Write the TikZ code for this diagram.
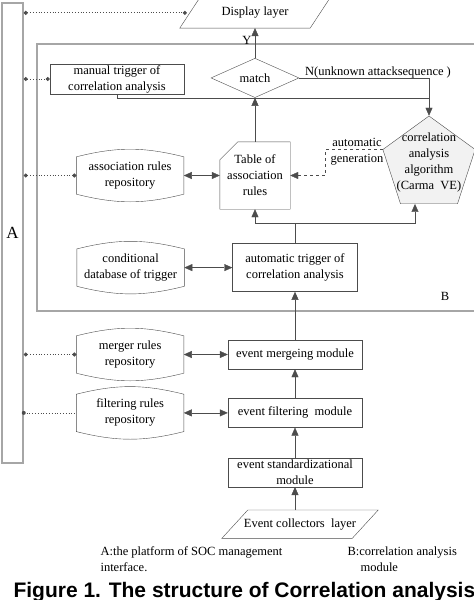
\documentclass[tikz,border=0pt]{standalone}
\usepackage{fontspec}
\setmainfont{Liberation Serif}
\newfontfamily\capfont{Liberation Sans}
\usetikzlibrary{arrows.meta}
\usetikzlibrary{shapes.geometric}
\usetikzlibrary{positioning}
\usetikzlibrary{calc}

\begin{document}
\begin{tikzpicture}[x=1pt,y=-1pt,font=\fontsize{12.5}{16}\selectfont]
  \tikzset{modbox/.style={draw=black!70,minimum width=#1,minimum height=29pt,inner sep=0pt,align=center},
           repo/.style={minimum width=107pt,minimum height=37pt,inner sep=0pt,align=center},
           link/.style={-{Triangle[length=8pt,width=7pt]},black!70},
           both/.style={{Triangle[length=8pt,width=7pt]}-{Triangle[length=8pt,width=7pt]},black!70},
           dotlink/.style={dotted,thick,{Circle[length=4pt]}-{Circle[length=4pt]},black!70},
           dashlink/.style={dashed,-{Triangle[length=8pt,width=7pt]},black!70},
           outline/.style={draw=black!35,line width=1.5pt}}
  \useasboundingbox (0,0) rectangle (474,600);

  % platform bar and module frame
  \node[outline,minimum width=21pt,minimum height=460pt,font=\fontsize{17}{17}\selectfont] (abar) at (12.5,233) {A};
  \node[outline,minimum width=446pt,minimum height=267pt] (bframe) at (260,177.5) {};
  \node (bmark) at (445,296) {B};

  % correlation analysis module
  \node[minimum width=70pt,minimum height=67pt,inner sep=0pt,align=center] (table) at (255,175.5) {Table of\\association\\rules};
  \node[diamond,draw=black!70,minimum width=88pt,minimum height=38pt,inner sep=0pt,above=44pt] (match) at (table.north) {match};
  \node[minimum width=150pt,minimum height=30pt,inner sep=0pt,above=30pt] (display) at (match.north) {Display layer};
  \node[modbox=134pt,minimum height=30pt] (manual) at (117,79) {manual trigger of\\correlation analysis};
  \node[regular polygon,regular polygon sides=5,draw=black!70,fill=black!5,minimum size=97pt,inner sep=0pt,
        label={[align=center,yshift=2pt]center:correlation\\analysis\\algorithm\\(Carma\ \ VE)}] (pent) at (429,164.5) {};
  \node[repo,left=36pt] (assoc) at (table.west) {association rules\\repository};

  % event chain
  \node[modbox=134pt] (merge) at (295,354.5) {event mergeing module};
  \node[modbox=134pt,below=29pt] (filt) at (merge.south) {event filtering\ \ module};
  \node[modbox=134pt,below=30pt] (std) at (filt.south) {event standardizational\\module};
  \node[minimum width=156pt,minimum height=28pt,inner sep=0pt,below=23pt,xshift=5pt] (collect) at (std.south) {Event collectors\ \ layer};
  \node[modbox=125pt,minimum height=48pt,above=48pt] (auto) at (merge.north) {automatic trigger of\\correlation analysis};
  \node[repo,left=48pt] (cond) at (auto.west) {conditional\\database of trigger};
  \node[repo,left=44pt] (merger) at (merge.west) {merger rules\\repository};
  \node[repo,left=44pt] (filter) at (filt.west) {filtering rules\\repository};

  % outlines
  \foreach \n/\s in {display/20,collect/26}
    \draw[black!70] (\n.south west) -- ([xshift=\s]\n.north west) -- (\n.north east) -- ([xshift=-\s]\n.south east) -- cycle;
  \draw[black!70] (table.south west) -- ([yshift=-18pt]table.north west) -- ([xshift=18pt]table.north west)
    -- (table.north east) -- (table.south east) -- cycle;
  \foreach \n in {assoc,cond,merger,filter}
    \draw[black!70] (\n.north west) to[bend left=14] (\n.north east) -- (\n.south east)
      to[bend left=14] (\n.south west) -- cycle;

  % labels
  \node (ymark) at (247,40) {Y};
  \node (nmark) at (378,72) {N(unknown attacksequence )};
  \node[align=center] (autogen) at (357,152) {automatic\\generation};

  \draw[link] (match.north) -- (display.south);
  \draw[link] (table.north) -- (match.south);
  \draw[link] (match.east) -| (pent.corner 1);
  \draw[black!70] (manual.south) |- (match.south -| pent.corner 1);
  \draw[black!70] (auto.north) -- ++(0,-20) coordinate (fork);
  \draw[link] (fork) -| (table.south);
  \draw[link] (fork) -| ([xshift=-14pt]pent.side 3);
  \draw[dashlink] (pent.corner 2) -- ++(-57,0) |- (table.east);
  \draw[both] (assoc.east) -- (table.west);
  \draw[both] (cond.east) -- (auto.west);
  \draw[both] (merger.east) -- (merge.west);
  \draw[both] (filter.east) -- (filt.west);
  \draw[link] (merge.north) -- (auto.south);
  \draw[link] (filt.north) -- (merge.south);
  \draw[link] (std.north) -- (filt.south);
  \draw[link] (std.south |- collect.north) -- (std.south);

  \draw[dotlink] (abar.east |- display.west) -- ([xshift=7pt]display.west);
  \draw[dotlink] (abar.east |- manual.west) -- (manual.west);
  \draw[dotlink] (abar.east |- assoc.west) -- (assoc.west);
  \draw[dotlink] (abar.east |- merger.west) -- (merger.west);
  \draw[dotlink,-] (abar.east |- filter.west) -- (filter.west);
  \fill[black!70] (abar.east |- filter.west) circle (2pt);

  % captions
  \node[align=left,anchor=north west] (acap) at (97,543) {A:the platform of SOC management\\interface.};
  \node[align=left,anchor=north west] (bcap) at (344,543) {B:correlation analysis\\\hspace*{13pt}module};
  \node[anchor=base west,font=\capfont\bfseries\fontsize{21}{22}\selectfont] (fig) at (10,597) {Figure 1. The structure of Correlation analysis};
\end{tikzpicture}
\end{document}
